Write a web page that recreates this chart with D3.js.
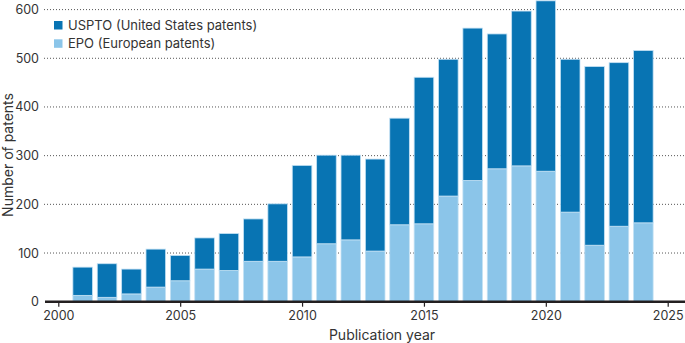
<!DOCTYPE html>
<html>
<head>
<meta charset="utf-8">
<script src="https://cdn.jsdelivr.net/npm/d3@7"></script>
<style>
  body { margin: 0; background: #fff; }
  svg { display: block; font-family: "Inter", "Liberation Sans", sans-serif; }
</style>
</head>
<body>
<div id="chart"></div>
<script>
const years = [2001, 2002, 2003, 2004, 2005, 2006, 2007, 2008, 2009, 2010, 2011, 2012,
  2013, 2014, 2015, 2016, 2017, 2018, 2019, 2020, 2021, 2022, 2023, 2024]
const epo = [13, 9, 16, 30, 43, 67, 64, 83, 83, 92, 119, 127,
  104, 158, 160, 217, 249, 273, 279, 268, 184, 116, 155, 162]
const uspto = [58, 69, 51, 78, 52, 64, 76, 87, 118, 188, 182, 174,
  189, 219, 301, 281, 313, 277, 318, 350, 314, 367, 336, 354]
const yTicks = [0, 100, 200, 300, 400, 500, 600]
const xTicks = [2000, 2005, 2010, 2015, 2020, 2025]
const seriesNames = ["USPTO (United States patents)", "EPO (European patents)"]

const chartWidth = 685
const chartHeight = 343
const colors = { uspto: "#0874b3", epo: "#8bc5e9" }

const svg = d3.select("#chart").append("svg")
  .attr("width", chartWidth)
  .attr("height", chartHeight)

const x = d3.scaleLinear().domain([2000, 2025]).range([58.3, 667.7])
const y = d3.scaleLinear().domain([0, 600]).range([301.7, 9.6])
const barWidth = 19.6

// dotted gridlines with value labels
const grid = svg.append("g")
grid.selectAll("line").data(yTicks.filter(d => d > 0)).enter()
  .append("line")
  .attr("x1", 44).attr("x2", chartWidth)
  .attr("y1", d => y(d)).attr("y2", d => y(d))
  .attr("stroke", "#555")
  .attr("stroke-width", 1)
  .attr("stroke-dasharray", "1,2")
grid.selectAll("text").data(yTicks).enter()
  .append("text")
  .attr("x", 39)
  .attr("y", d => y(d))
  .attr("dy", "0.36em")
  .attr("text-anchor", "end")
  .attr("font-size", 12.5)
  .attr("fill", "#333")
  .text(d => d)

// stacked bars: EPO at the bottom, USPTO on top
const rows = years.map((yr, i) => ({ year: yr, epo: epo[i], uspto: uspto[i] }))
const stacked = d3.stack().keys(["epo", "uspto"])(rows)

svg.append("g").selectAll("g").data(stacked).enter()
  .append("g")
  .attr("fill", d => colors[d.key])
  .selectAll("rect").data(d => d).enter()
  .append("rect")
  .attr("x", d => x(d.data.year) - barWidth / 2)
  .attr("y", d => y(d[1]))
  .attr("width", barWidth)
  .attr("height", d => y(d[0]) - y(d[1]))
  .attr("stroke", "#c4e1f4")
  .attr("stroke-width", 0.8)

// x axis
const xAxis = svg.append("g").attr("transform", "translate(0," + y(0) + ")")
  .call(d3.axisBottom(x).tickValues(xTicks).tickFormat(d3.format("d")).tickSize(5).tickPadding(4))
xAxis.select(".domain").remove()
xAxis.selectAll(".tick line").attr("stroke", "#231f20").attr("stroke-width", 1.2)
xAxis.selectAll(".tick text")
  .attr("font-size", 12.5)
  .attr("font-family", "Inter, 'Liberation Sans', sans-serif")
  .attr("fill", "#333")
xAxis.append("line")
  .attr("x1", 45).attr("x2", chartWidth)
  .attr("stroke", "#231f20")
  .attr("stroke-width", 2.6)

// axis titles
svg.append("text")
  .attr("x", 382).attr("y", 340)
  .attr("text-anchor", "middle")
  .attr("font-size", 14)
  .attr("fill", "#333")
  .text("Publication year")

svg.append("text")
  .attr("transform", "translate(13,155) rotate(-90)")
  .attr("text-anchor", "middle")
  .attr("font-size", 14)
  .attr("fill", "#333")
  .text("Number of patents")

// legend
const legend = svg.append("g").attr("transform", "translate(54,21)")
const legendItems = legend.selectAll("g").data(seriesNames).enter()
  .append("g")
  .attr("transform", (d, i) => "translate(0," + i * 18.3 + ")")
legendItems.append("rect")
  .attr("width", 8.5).attr("height", 8.5)
  .attr("fill", (d, i) => i === 0 ? colors.uspto : colors.epo)
legendItems.append("text")
  .attr("x", 14).attr("y", 9)
  .attr("font-size", 13)
  .attr("fill", "#333")
  .text(d => d)
</script>
</body>
</html>
